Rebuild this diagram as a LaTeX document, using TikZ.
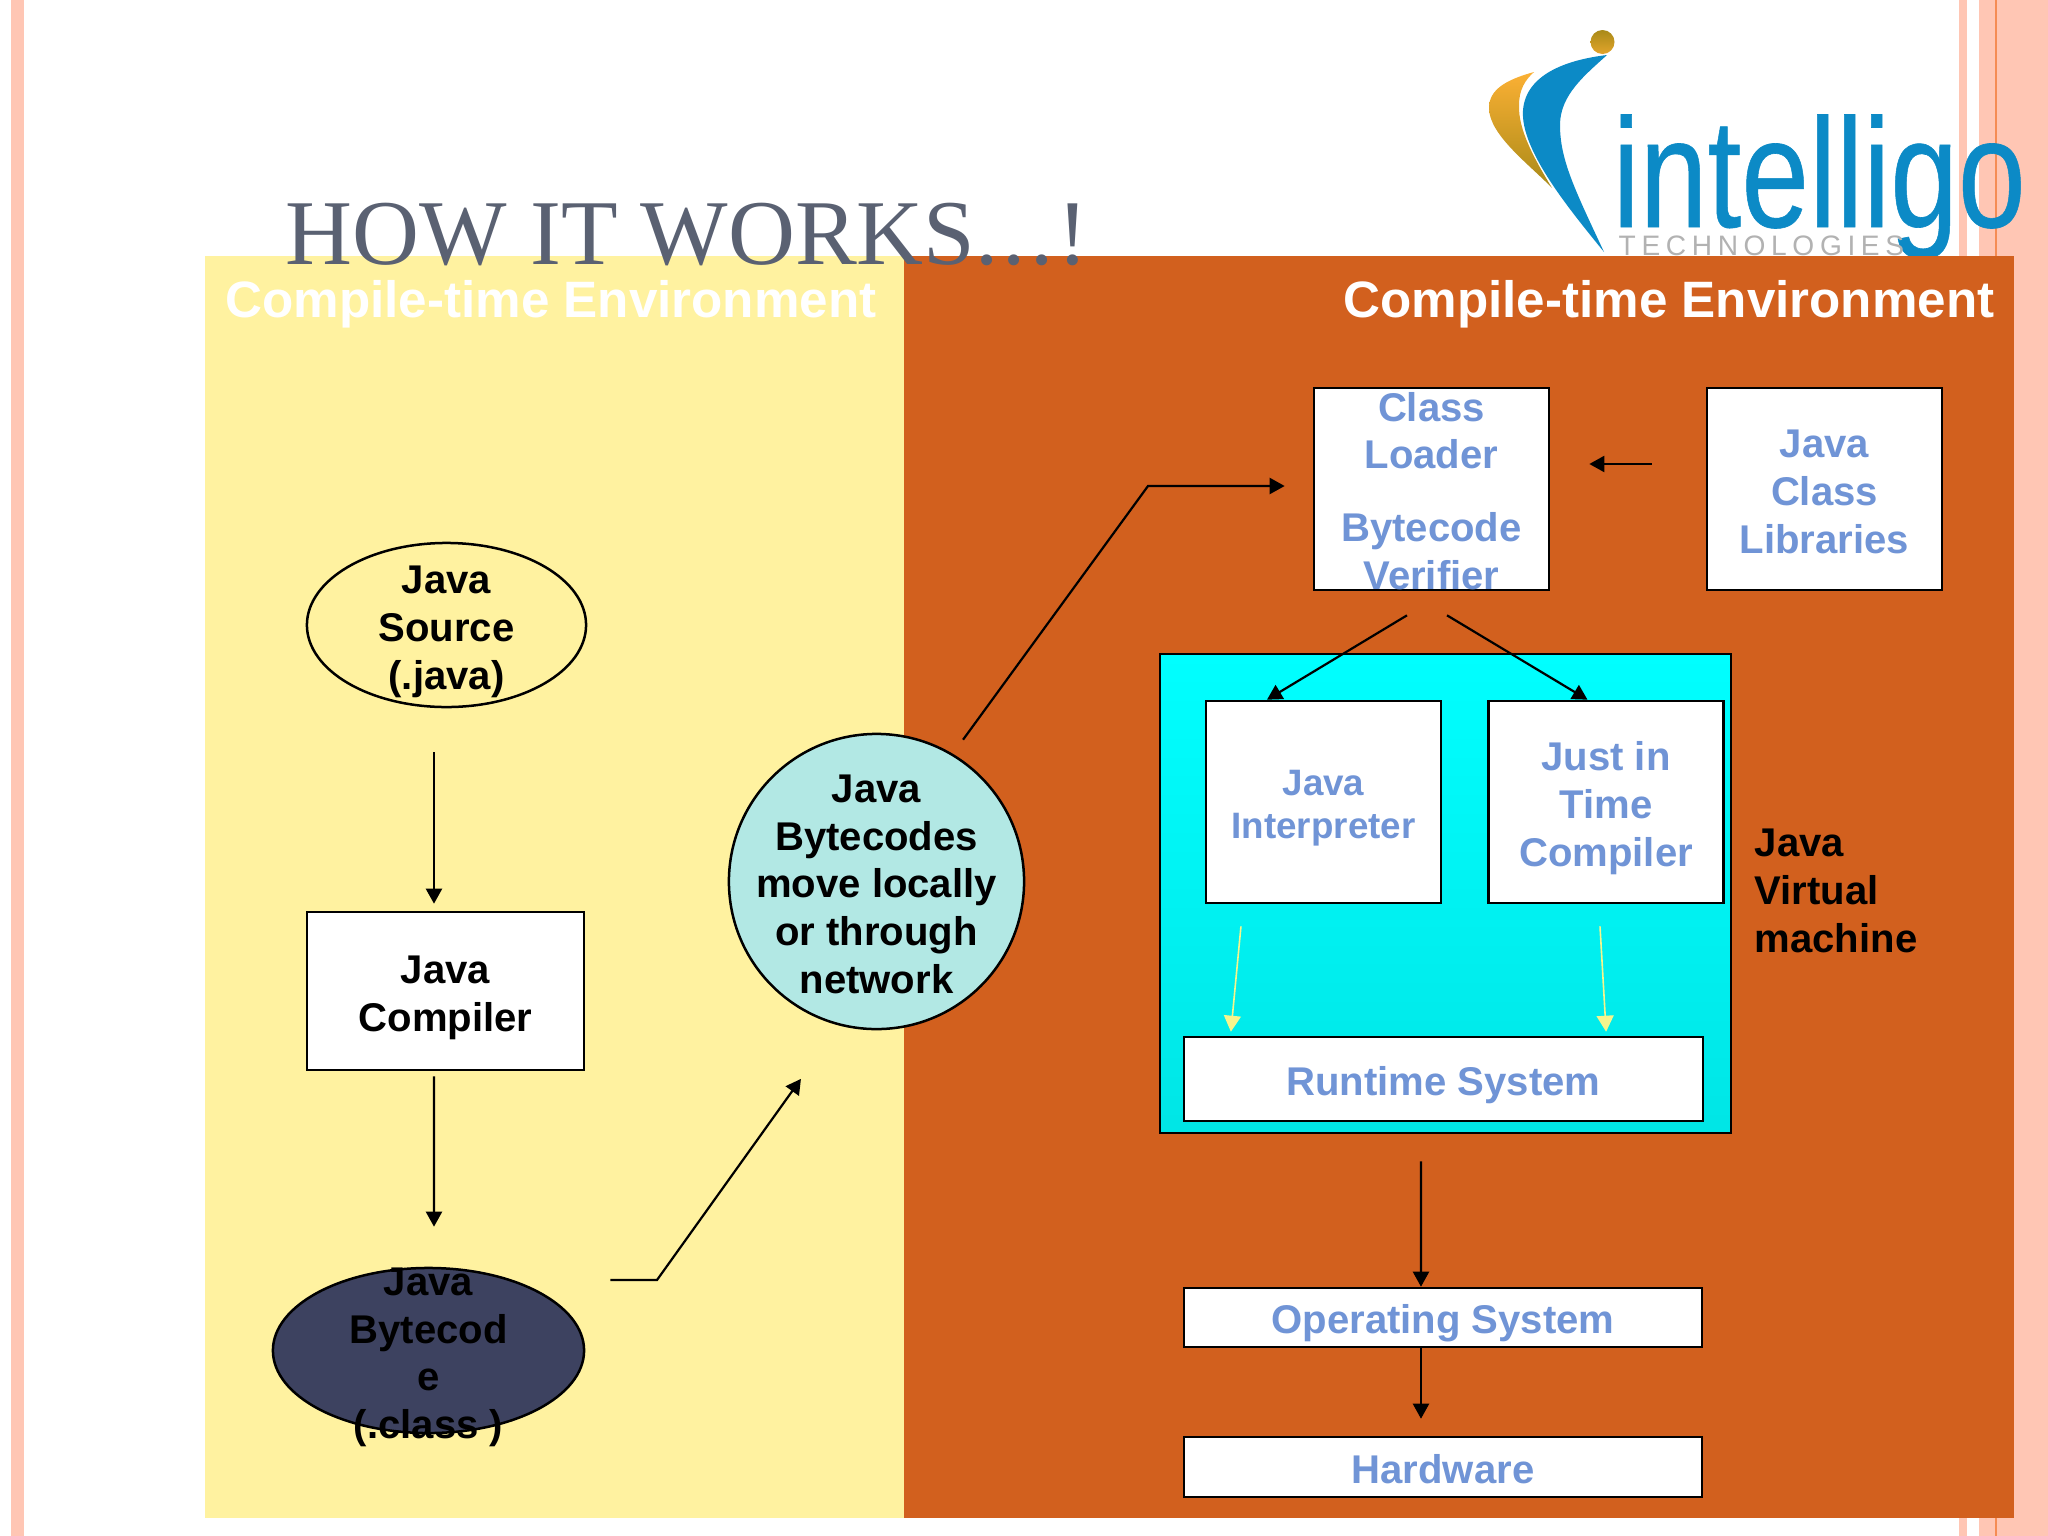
\documentclass[tikz,border=0pt]{standalone}
\usepackage{fontspec}
\usepackage{graphicx}
\setmainfont{Liberation Sans}
\newfontfamily\titlefont{Liberation Serif}
\newfontfamily\logofont[FakeBold=0.4]{Liberation Sans}
\newfontfamily\logosmall[LetterSpace=20]{Liberation Sans}
\usetikzlibrary{arrows.meta,shapes.geometric}
\definecolor{panelyellow}{HTML}{FFF2A0}
\definecolor{panelorange}{HTML}{D2601E}
\definecolor{stripe}{HTML}{FFC6B4}
\definecolor{stripeline}{HTML}{F58C54}
\definecolor{titlegray}{HTML}{5A6172}
\definecolor{boxblue}{HTML}{7094D6}
\definecolor{arrowyellow}{HTML}{F5F58C}
\definecolor{logoblue}{HTML}{0C8AC6}
\definecolor{logoorange}{HTML}{FBB034}
\definecolor{logogold}{HTML}{A98A18}
\definecolor{bubblecyan}{HTML}{B2E8E4}
\definecolor{bubbledark}{HTML}{3D4260}
\newcommand{\boxlines}[1]{\smash{\raisebox{-.41em}{\begin{tabular}{@{}c@{}}#1\end{tabular}}}}
\tikzset{
	outline/.style={draw=black, line width=0.025cm, inner sep=0pt},
	bigfont/.style={font=\bfseries\fontsize{11.4}{13.56}\selectfont},
	whitebox/.style={outline, rectangle, fill=white, text=boxblue, bigfont},
	flow/.style={line width=0.022cm, -{Triangle[length=0.15cm,width=0.16cm]}},
	flowyellow/.style={arrowyellow, line width=0.016cm, -{Triangle[length=0.16cm,width=0.17cm]}},
}

\begin{document}
\begin{tikzpicture}[x=0.01cm,y=-0.01cm]
				\useasboundingbox (0,0) rectangle (2048,1536);
				\fill[white] (0,0) rectangle (2048,1536);
				
				\fill[stripe] (11,0) rectangle (24,1536);
				\fill[stripe] (1959,0) rectangle (1967,1536);
				\fill[stripe] (1979,0) rectangle (2048,1536);
				\draw[stripeline, line width=0.012cm] (1996,0) -- (1996,1536);
				
				\shade[top color=logoorange, bottom color=logogold] (1534,72) .. controls (1505,80) and (1489,90) .. (1489,108) .. controls (1489,135) and (1530,165) .. (1552,188) .. controls (1535,160) and (1518,130) .. (1519,105) .. controls (1519,90) and (1525,80) .. (1534,72);
				\fill[logoblue] (1607,55) .. controls (1565,60) and (1526,75) .. (1523,110) .. controls (1520,150) and (1570,210) .. (1604,252) .. controls (1575,190) and (1560,160) .. (1560,125) .. controls (1560,95) and (1585,75) .. (1607,55);
				\shade[top color=logogold, bottom color=logoorange!70!logogold] (1602.5,42) circle (12);
				\node[text=logoblue, inner sep=0pt, anchor=base west] (logoname) at (1612,227) {\scalebox{0.745}[0.95]{\logofont\fontsize{46.5}{46.5}\selectfont intelligo}};
				\node[text=black!30, inner sep=0pt, anchor=base west] (logosub) at (1618,255) {\logosmall\fontsize{8}{8}\selectfont TECHNOLOGIES};
				
				\fill[panelyellow] (205,256) rectangle (904,1518);
				\fill[panelorange] (904,256) rectangle (2014,1518);
				
				\node[text=titlegray, inner sep=0pt, anchor=base west] (slidetitle) at (285,264) {\titlefont\fontsize{26.35}{30}\selectfont HOW IT WORKS.\kern1.2pt.\kern1.2pt.\kern1.2pt!};
				\node[text=white, inner sep=0pt, font=\bfseries\fontsize{14.55}{16}\selectfont] (leftpanel) at (551,304) {Compile-time Environment};
				\node[text=white, inner sep=0pt, font=\bfseries\fontsize{14.55}{16}\selectfont] (rightpanel) at (1669,304) {Compile-time Environment};
				
				\node[outline, ellipse, fill=panelyellow, bigfont, minimum width=2.79cm, minimum height=1.64cm] (javasource) at (446.5,625) {\boxlines{Java\\Source\\(.java)}};
				\node[outline, rectangle, fill=white, bigfont, minimum width=2.77cm, minimum height=1.58cm] (javacompiler) at (445.5,991) {\boxlines{Java\\Compiler}};
				\node[outline, ellipse, fill=bubbledark, bigfont, minimum width=3.11cm, minimum height=1.65cm] (javabytecode) at (428.5,1350.5) {\boxlines{Java\\Bytecod\\e\\(.class )}};
				\node[outline, circle, fill=bubblecyan, bigfont, minimum size=2.95cm] (bytecodes) at (876.5,881.5) {\boxlines{Java\\Bytecodes\\move locally\\or through\\network}};
				
				\node[whitebox, minimum width=2.35cm, minimum height=2.02cm] (classloader) at (1431.5,489) {\boxlines{Class\\Loader\\[0.255cm]Bytecode\\Verifier}};
				\node[whitebox, minimum width=2.35cm, minimum height=2.02cm] (classlibs) at (1824.5,489) {\boxlines{Java\\Class\\Libraries}};
				
				\node[outline, rectangle, top color=cyan, bottom color=cyan!90!black, minimum width=5.71cm, minimum height=4.79cm] (jvm) at (1445.5,893.5) {};
				\node[whitebox, minimum width=2.35cm, minimum height=2.02cm, font=\bfseries\fontsize{10.45}{12.1}\selectfont] (interpreter) at (1323.5,802) {\boxlines{Java\\Interpreter}};
				\node[whitebox, minimum width=2.35cm, minimum height=2.02cm] (jitcompiler) at (1606,802) {\boxlines{Just in\\Time\\Compiler}};
				\node[whitebox, minimum width=5.19cm, minimum height=0.84cm] (runtime) at (1443.5,1079) {\boxlines{Runtime System}};
				\node[whitebox, minimum width=5.18cm, minimum height=0.59cm] (opsystem) at (1443,1317.5) {\boxlines{Operating System}};
				\node[whitebox, minimum width=5.18cm, minimum height=0.60cm] (hardware) at (1443,1467) {\boxlines{Hardware}};
				\node[inner sep=0pt, anchor=west, align=left, bigfont] (jvmlabel) at (1754,891) {Java\\Virtual\\machine};
				
				\coordinate (leftbend) at (657,1280);
				\coordinate (rightbend) at (1148,486);
				
				\draw[flow] ([xshift=-0.125cm,yshift=-0.44cm]javasource.south) -- ([xshift=-0.115cm,yshift=0.07cm]javacompiler.north);
				\draw[flow] ([xshift=-0.115cm,yshift=-0.05cm]javacompiler.south) -- ([xshift=0.055cm,yshift=0.4cm]javabytecode.north);
				\draw[flow] ([xshift=0.25cm,yshift=0.705cm]javabytecode.east) -- (leftbend) -- ([xshift=-0.755cm,yshift=-3.46cm]bytecodes.north);
				\draw[flow] ([xshift=0.865cm,yshift=-0.07cm]bytecodes.north) -- (rightbend) -- ([xshift=-0.28cm,yshift=0.03cm]classloader.west);
				\draw[flow] ([xshift=-0.54cm,yshift=0.25cm]classlibs.west) -- ([xshift=0.39cm,yshift=0.25cm]classloader.east);
				\draw[flow] ([xshift=-0.245cm,yshift=-0.24cm]classloader.south) -- ([xshift=-0.565cm]interpreter.north);
				\draw[flow] ([xshift=0.155cm,yshift=-0.24cm]classloader.south) -- ([xshift=-0.185cm]jitcompiler.north);
				\draw[flowyellow] ([xshift=-0.825cm,yshift=-0.22cm]interpreter.south) -- ([xshift=-2.125cm,yshift=0.04cm]runtime.north);
				\draw[flowyellow] ([xshift=-0.06cm,yshift=-0.22cm]jitcompiler.south) -- ([xshift=1.625cm,yshift=0.04cm]runtime.north);
				\draw[flow] ([xshift=-0.245cm,yshift=-0.27cm]jvm.south) -- ([xshift=-0.22cm]opsystem.north);
				\draw[flow] ([xshift=-0.22cm]opsystem.south) -- ([xshift=-0.22cm,yshift=0.17cm]hardware.north);
			\end{tikzpicture}
\end{document}
